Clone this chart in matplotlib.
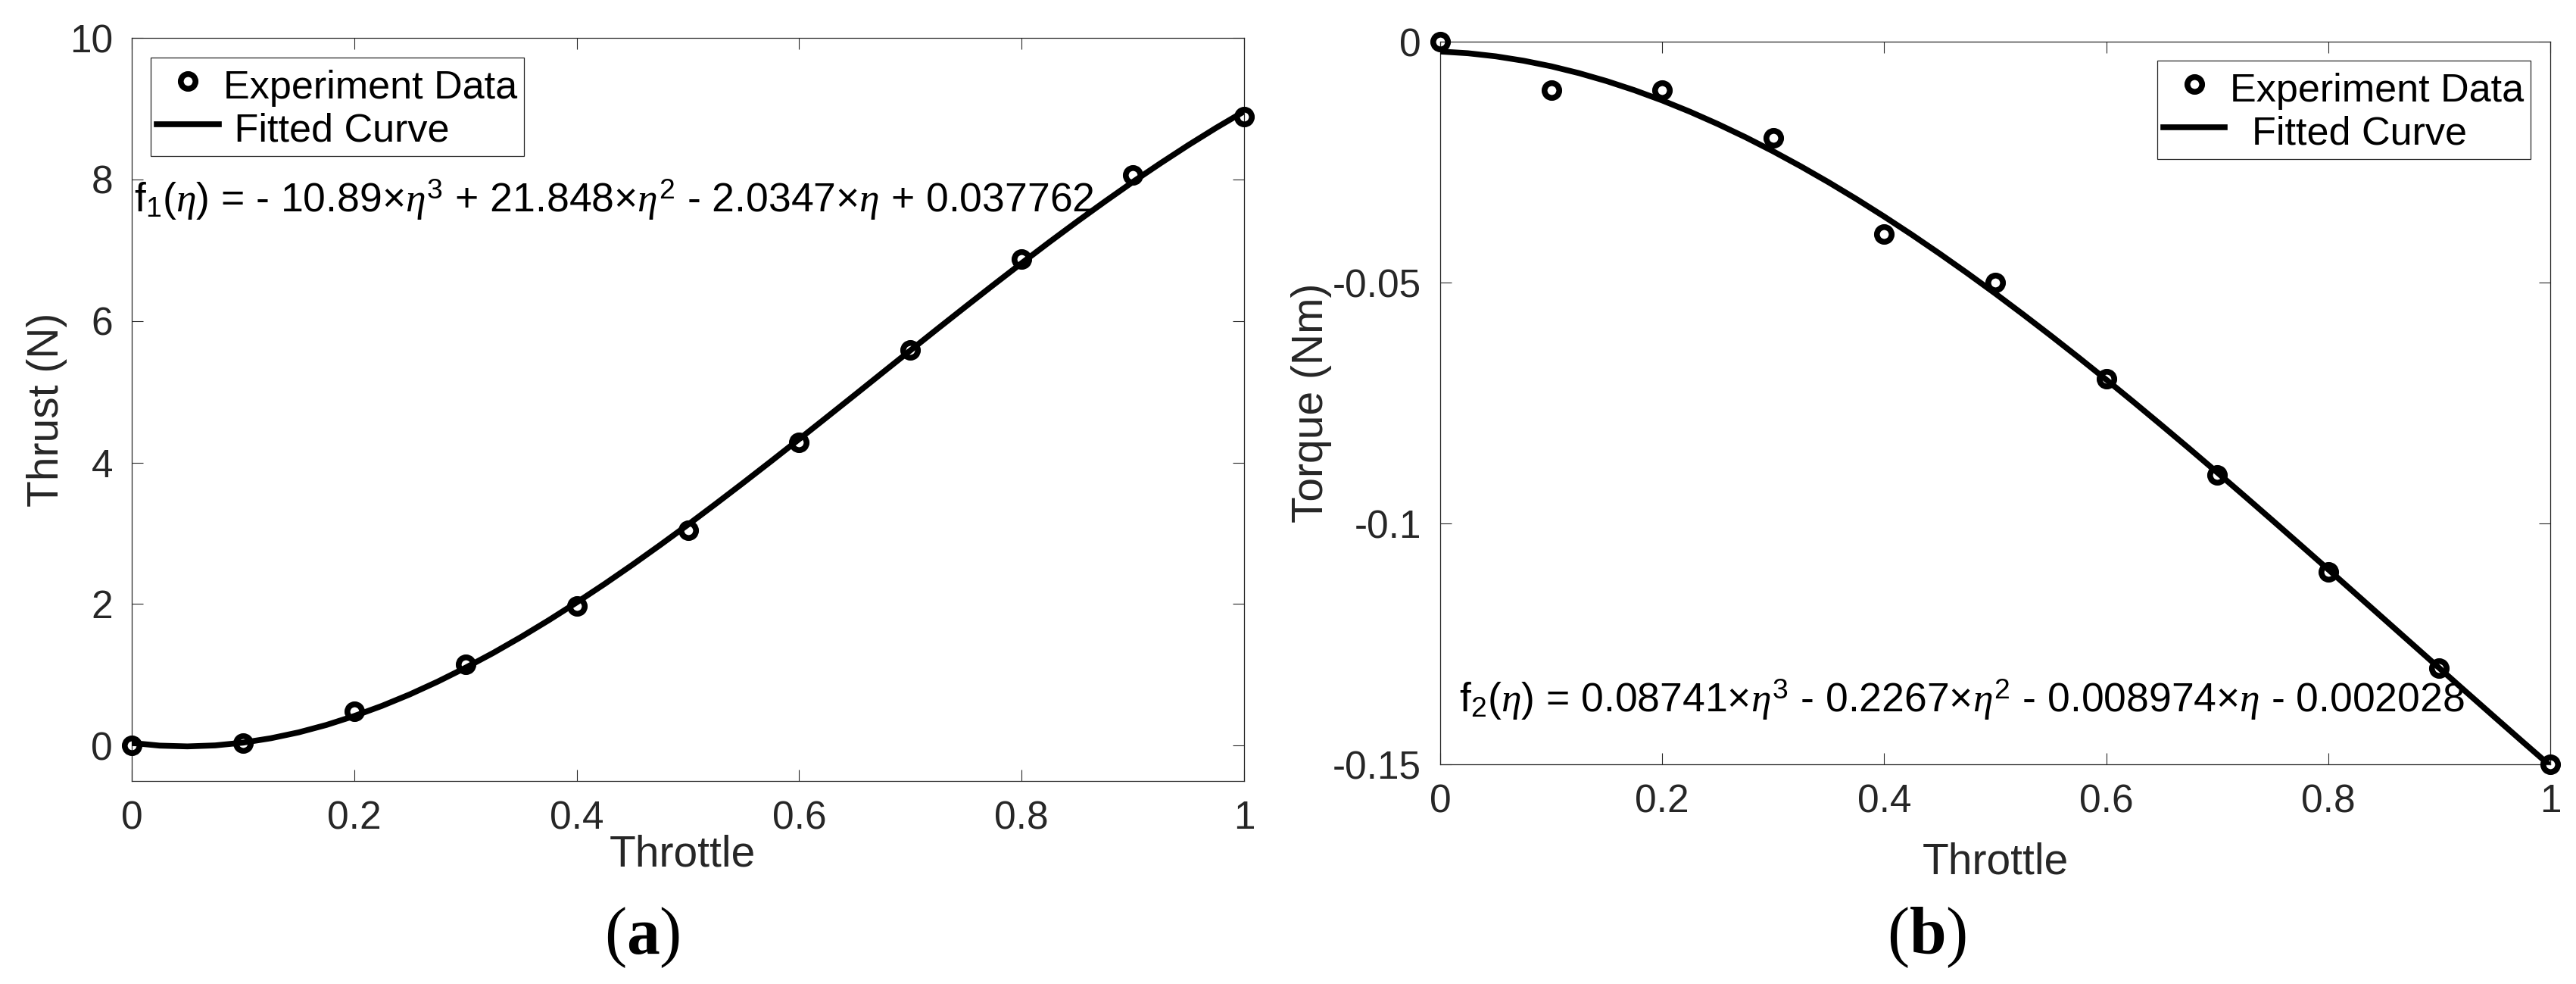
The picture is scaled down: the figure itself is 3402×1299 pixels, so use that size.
"""
Thrust and torque against throttle: measured points plus the cubic fit.
Two panels, (a) thrust and (b) torque.
"""

import matplotlib
matplotlib.use("Agg")
import matplotlib.pyplot as plt
from matplotlib.lines import Line2D

# ---------------------------------------------------------------------------
# Data
# ---------------------------------------------------------------------------
throttle = [0.0, 0.1, 0.2, 0.3, 0.4, 0.5, 0.6, 0.7, 0.8, 0.9, 1.0]
thrust_meas = [0.0, 0.04, 0.48, 1.15, 1.97, 3.04, 4.28, 5.59, 6.87, 8.06, 8.89]
torque_meas = [0.0, -0.01, -0.01, -0.02, -0.04, -0.05, -0.07, -0.09, -0.11, -0.13, -0.15]

# fitted curves, sampled every 0.025 along the throttle axis
fit_throttle = [0.0, 0.025, 0.05, 0.075, 0.1, 0.125, 0.15, 0.175, 0.2, 0.225,
                0.25, 0.275, 0.3, 0.325, 0.35, 0.375, 0.4, 0.425, 0.45, 0.475,
                0.5, 0.525, 0.55, 0.575, 0.6, 0.625, 0.65, 0.675, 0.7, 0.725,
                0.75, 0.775, 0.8, 0.825, 0.85, 0.875, 0.9, 0.925, 0.95, 0.975,
                1.0]
thrust_fit = [0.038, 0.000, -0.011, 0.003, 0.042, 0.104, 0.187, 0.292, 0.418,
              0.562, 0.724, 0.904, 1.100, 1.310, 1.535, 1.773, 2.023, 2.283,
              2.554, 2.834, 3.121, 3.416, 3.716, 4.021, 4.330, 4.642, 4.955,
              5.270, 5.584, 5.897, 6.207, 6.514, 6.817, 7.115, 7.406, 7.689,
              7.965, 8.230, 8.486, 8.730, 8.961]
torque_fit = [-0.00203, -0.00239, -0.00303, -0.00394, -0.00510, -0.00652,
              -0.00818, -0.01007, -0.01219, -0.01453, -0.01708, -0.01982,
              -0.02276, -0.02589, -0.02919, -0.03266, -0.03630, -0.04008,
              -0.04401, -0.04807, -0.05226, -0.05658, -0.06100, -0.06552,
              -0.07014, -0.07485, -0.07964, -0.08449, -0.08941, -0.09438,
              -0.09940, -0.10446, -0.10954, -0.11465, -0.11977, -0.12489,
              -0.13001, -0.13512, -0.14021, -0.14527, -0.15029]

x_ticks = [0, 0.2, 0.4, 0.6, 0.8, 1.0]
x_ticklabels = ["0", "0.2", "0.4", "0.6", "0.8", "1"]
thrust_ticks = [0, 2, 4, 6, 8, 10]
thrust_ticklabels = ["0", "2", "4", "6", "8", "10"]
torque_ticks = [-0.15, -0.1, -0.05, 0]
torque_ticklabels = ["-0.15", "-0.1", "-0.05", "0"]

eq_thrust = (r"f$_1$($\eta$) = - 10.89×$\eta^3$ + 21.848×$\eta^2$"
             r" - 2.0347×$\eta$ + 0.037762")
eq_torque = (r"f$_2$($\eta$) = 0.08741×$\eta^3$ - 0.2267×$\eta^2$"
             r" - 0.008974×$\eta$ - 0.002028")

# ---------------------------------------------------------------------------
# Style
# ---------------------------------------------------------------------------
AX_COLOR = "#262626"
TICK_FS = 37
LABEL_FS = 41
LEGEND_FS = 37.5
EQ_FS = 38.5
LW = 5.5
MS = 14

plt.rcParams["font.family"] = ["Liberation Sans", "DejaVu Sans"]
plt.rcParams["mathtext.fontset"] = "custom"
plt.rcParams["mathtext.rm"] = "Liberation Sans"
plt.rcParams["mathtext.it"] = "Liberation Serif:italic"
plt.rcParams["mathtext.bf"] = "Liberation Serif:bold"


def style_axes(ax):
    for sp in ax.spines.values():
        sp.set_color(AX_COLOR)
        sp.set_linewidth(0.9)
    ax.tick_params(direction="in", length=10.8, width=0.8, color=AX_COLOR,
                   labelcolor=AX_COLOR, labelsize=TICK_FS,
                   top=True, right=True, pad=18)


def draw_panel(ax, y_meas, y_fit, fit_label):
    ax.plot(throttle, y_meas, linestyle="none", marker="o", ms=MS,
            mfc="none", mec="black", mew=LW, clip_on=False, zorder=3)
    ax.plot(fit_throttle, y_fit, color="black", lw=LW, zorder=4,
            solid_joinstyle="round")
    handles = [
        Line2D([], [], linestyle="none", marker="o", ms=MS, mfc="none",
               mec="black", mew=LW, label="Experiment Data"),
        Line2D([], [], color="black", lw=LW, label=fit_label),
    ]
    return handles


def add_legend(ax, handles, loc, anchor):
    leg = ax.legend(handles=handles, loc=loc, bbox_to_anchor=anchor,
                    fontsize=LEGEND_FS, handlelength=1.56, handletextpad=0.13,
                    handleheight=1.3, borderpad=0.16, labelspacing=0.0,
                    borderaxespad=0, fancybox=False, framealpha=1,
                    edgecolor=AX_COLOR)
    leg.get_frame().set_linewidth(0.9)
    return leg


fig = plt.figure(figsize=(34.02, 12.99), dpi=100)

# ---- (a) thrust ----
ax1 = fig.add_axes([0.05115, 0.2063, 0.4318, 0.7552])
h1 = draw_panel(ax1, thrust_meas, thrust_fit, " Fitted Curve")
ax1.set_xlim(0, 1)
ax1.set_ylim(-0.5, 10)
ax1.set_xticks(x_ticks, x_ticklabels)
ax1.set_yticks(thrust_ticks, thrust_ticklabels)
style_axes(ax1)
ax1.set_xlabel("Throttle", fontsize=LABEL_FS, color=AX_COLOR, va="baseline")
ax1.xaxis.set_label_coords(0.495, -0.1142)
ax1.set_ylabel("Thrust (N)", fontsize=LABEL_FS, color=AX_COLOR, va="baseline")
ax1.yaxis.set_label_coords(-0.066, 0.5)
add_legend(ax1, h1, "upper left", (0.017, 0.974))
ax1.text(0.002, 0.7655, eq_thrust, transform=ax1.transAxes, fontsize=EQ_FS,
         ha="left", va="baseline", color="black", zorder=5)

# ---- (b) torque ----
ax2 = fig.add_axes([0.5591, 0.2232, 0.4309, 0.7344])
h2 = draw_panel(ax2, torque_meas, torque_fit, "  Fitted Curve")
ax2.set_xlim(0, 1)
ax2.set_ylim(-0.15, 0)
ax2.set_xticks(x_ticks, x_ticklabels)
ax2.set_yticks(torque_ticks, torque_ticklabels)
style_axes(ax2)
ax2.set_xlabel("Throttle", fontsize=LABEL_FS, color=AX_COLOR, va="baseline")
ax2.xaxis.set_label_coords(0.5, -0.1509)
ax2.set_ylabel("Torque (Nm)", fontsize=LABEL_FS, color=AX_COLOR, va="baseline")
ax2.yaxis.set_label_coords(-0.106, 0.5)
add_legend(ax2, h2, "upper right", (0.982, 0.974))
ax2.text(0.017, 0.0723, eq_torque, transform=ax2.transAxes, fontsize=EQ_FS,
         ha="left", va="baseline", color="black", zorder=5)

# panel captions
fig.text(0.2493, 0.047, r"($\mathbf{a}$)", fontsize=63, ha="center",
         va="center", family="Liberation Serif")
fig.text(0.7481, 0.047, r"($\mathbf{b}$)", fontsize=63, ha="center",
         va="center", family="Liberation Serif")

fig.savefig("out.png", dpi=100, facecolor="white")
